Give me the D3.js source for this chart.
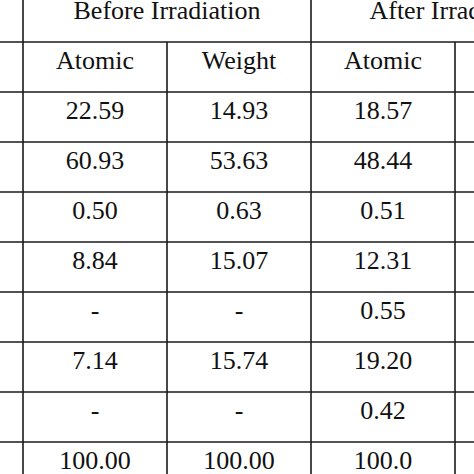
<!DOCTYPE html>
<html>
<head>
<meta charset="UTF-8">
<script src="https://d3js.org/d3.v7.min.js"></script>
<style>body{margin:0;background:#fff;}</style>
</head>
<body>
<svg id="t" width="474" height="474"></svg>
<script>
var groups = ["Before Irradiation", "After Irradiation"];
var subHeads = ["Atomic", "Weight", "Atomic", "Weight"];
var beforeAtomic = ["22.59", "60.93", "0.50", "8.84", "-", "7.14", "-", "100.00"];
var beforeWeight = ["14.93", "53.63", "0.63", "15.07", "-", "15.74", "-", "100.00"];
var afterAtomic = ["18.57", "48.44", "0.51", "12.31", "0.55", "19.20", "0.42", "100.0"];
var columns = [beforeAtomic, beforeWeight, afterAtomic];

var svg = d3.select("#t");
var nRows = 2 + beforeAtomic.length;
var y = d3.scaleLinear().domain([0, nRows]).range([-8, -8 + 50 * nRows]);
var x = d3.scaleLinear().domain([0, 4]).range([23, 599]);
var line = "#1a1a1a";

// horizontal lines
svg.selectAll("line.h").data(d3.range(1, nRows + 1)).enter().append("line")
    .attr("x1", 0).attr("x2", 474)
    .attr("y1", function(d){ return y(d); }).attr("y2", function(d){ return y(d); })
    .attr("stroke", line).attr("stroke-width", 1.6);

// full-height verticals
svg.selectAll("line.v").data([0, 2, 4]).enter().append("line")
    .attr("x1", function(d){ return x(d); }).attr("x2", function(d){ return x(d); })
    .attr("y1", 0).attr("y2", 474)
    .attr("stroke", line).attr("stroke-width", 1.6);
// sub-column verticals
svg.selectAll("line.s").data([1, 3]).enter().append("line")
    .attr("x1", function(d){ return x(d); }).attr("x2", function(d){ return x(d); })
    .attr("y1", y(1)).attr("y2", 474)
    .attr("stroke", line).attr("stroke-width", 1.6);

var font = "'Liberation Serif', 'Times New Roman', serif";
function txt(cx, row, s) {
    svg.append("text").attr("x", cx).attr("y", y(row) + 18)
        .attr("text-anchor", "middle").attr("dominant-baseline", "central")
        .attr("font-family", font).attr("font-size", 26).attr("fill", "#111")
        .text(s);
}
groups.forEach(function(g, i){ txt(x(2 * i + 1), 0, g); });
subHeads.forEach(function(h, i){ txt((x(i) + x(i + 1)) / 2, 1, h); });
columns.forEach(function(col, c){
    col.forEach(function(v, r){ txt((x(c) + x(c + 1)) / 2, r + 2, v); });
});
</script>
</body>
</html>
